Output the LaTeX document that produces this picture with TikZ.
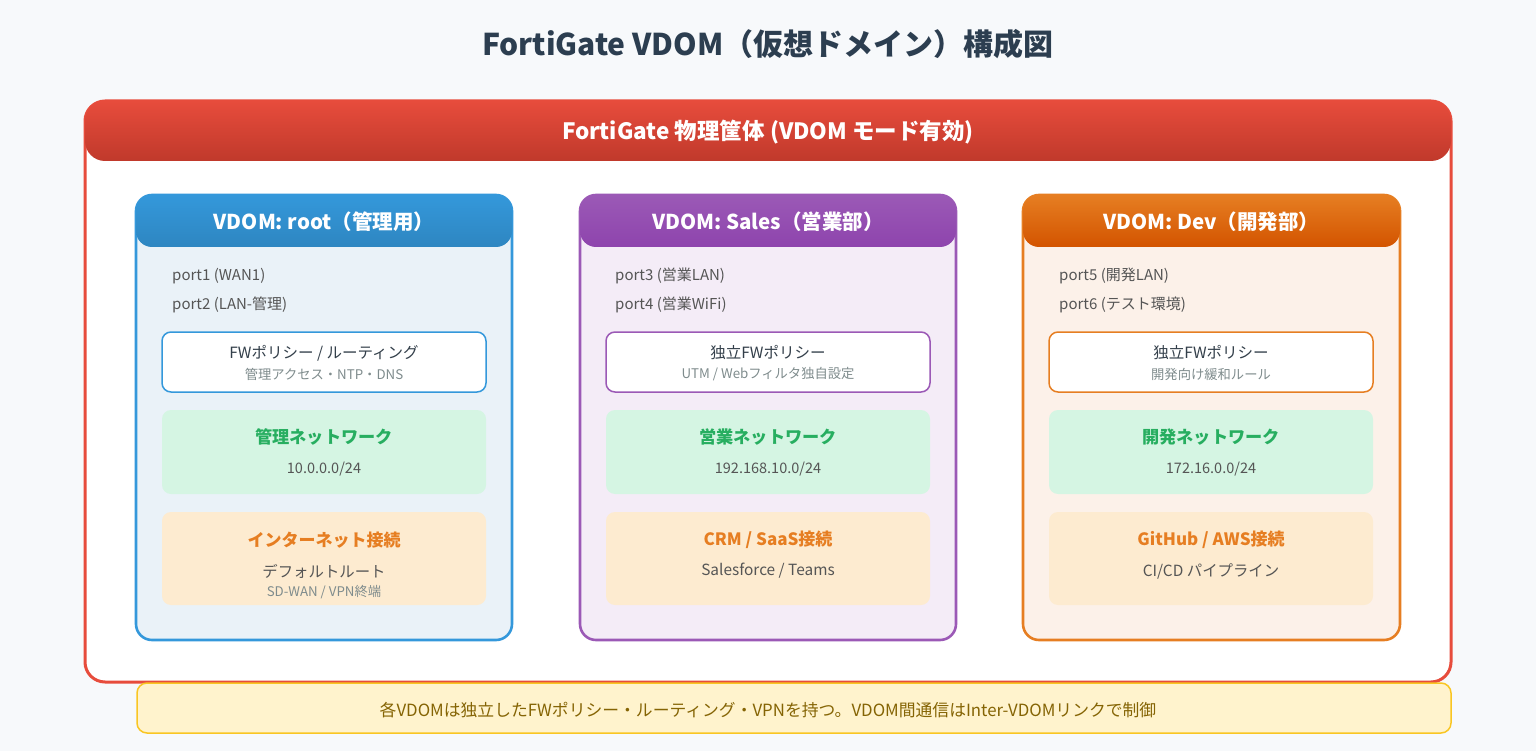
\documentclass[tikz,border=0pt]{standalone}
\usepackage{fontspec}
\setmainfont{Noto Sans CJK JP}
\newcommand{\FSz}[1]{\fontsize{#1}{#1}\selectfont}
\definecolor{bgc}{HTML}{F7F9FB}
\definecolor{titlec}{HTML}{2C3E50}
\definecolor{redA}{HTML}{E74C3C}
\definecolor{redB}{HTML}{C0392B}
\definecolor{blueA}{HTML}{3498DB}
\definecolor{blueB}{HTML}{2E86C1}
\definecolor{blueF}{HTML}{EAF2F8}
\definecolor{purA}{HTML}{9B59B6}
\definecolor{purB}{HTML}{8E44AD}
\definecolor{purF}{HTML}{F4ECF7}
\definecolor{oraA}{HTML}{E67E22}
\definecolor{oraB}{HTML}{D35400}
\definecolor{oraF}{HTML}{FCF1E9}
\definecolor{greenF}{HTML}{D5F5E3}
\definecolor{greenT}{HTML}{27AE60}
\definecolor{peachF}{HTML}{FDEBD0}
\definecolor{peachT}{HTML}{E67E22}
\definecolor{textc}{HTML}{555555}
\definecolor{darkt}{HTML}{333F4A}
\definecolor{grayt}{HTML}{7F8C8D}
\definecolor{noteF}{HTML}{FFF3CD}
\definecolor{noteD}{HTML}{F9C623}
\definecolor{noteT}{HTML}{856404}
\tikzset{
  vdombox/.style={line width=2.6pt, rounded corners=16pt},
  fwbox/.style={fill=white, line width=1.5pt, rounded corners=9pt, minimum width=324pt, minimum height=60pt, inner sep=0pt},
  netbox/.style={fill=greenF, rounded corners=9pt, minimum width=324pt, minimum height=84pt, inner sep=0pt},
  extbox/.style={fill=peachF, rounded corners=9pt, minimum width=324pt, minimum height=93pt, inner sep=0pt},
  hdrtext/.style={text=white, font=\FSz{20.5}\bfseries, inner sep=0pt},
  porttext/.style={text=textc, font=\FSz{15}, anchor=west, inner sep=0pt},
  fwtitle/.style={text=darkt, font=\FSz{15.5}, inner sep=0pt},
  fwsub/.style={text=grayt, font=\FSz{13.3}, inner sep=0pt},
  nettitle/.style={text=greenT, font=\FSz{17.2}\bfseries, inner sep=0pt},
  nettext/.style={text=textc, font=\FSz{14.5}, inner sep=0pt},
  exttitle/.style={text=peachT, font=\FSz{17}\bfseries, inner sep=0pt},
  exttext/.style={text=textc, font=\FSz{15.4}, inner sep=0pt},
  extsub/.style={text=grayt, font=\FSz{13.3}, inner sep=0pt},
}
\begin{document}
\begin{tikzpicture}[x=1pt,y=-1pt]
\useasboundingbox (0,0) rectangle (1536,751);
\fill[bgc] (0,0) rectangle (1536,751);
% title
\node[text=titlec, font=\FSz{30}\bfseries, inner sep=0pt] (title) at (768,44) {FortiGate VDOM（仮想ドメイン）構成図};
% outer chassis
\draw[fill=white, draw=redA, line width=3pt, rounded corners=20pt] (85,101) rectangle (1451,682);
\shade[top color=redA, bottom color=redB, rounded corners=20pt] (85,101) rectangle (1451,161);
\node[text=white, font=\FSz{22.5}\bfseries, inner sep=0pt] (chassis) at (768,132) {FortiGate 物理筐体 (VDOM モード有効)};

% ---------- VDOM root ----------
\draw[vdombox, fill=blueF, draw=blueA] (136,195) rectangle (512,640);
\shade[top color=blueA, bottom color=blueB, rounded corners=16pt] (136,195) rectangle (512,247);
\node[hdrtext] (rootH) at (324,222) {VDOM: root（管理用）};
\node[porttext] (rootP1) at (172,276) {port1 (WAN1)};
\node[porttext] (rootP2) at (172,305) {port2 (LAN-管理)};
\node[fwbox, draw=blueA] (rootFW) at (324,362) {};
\node[fwtitle] (rootFWt) at (324,353) {FWポリシー / ルーティング};
\node[fwsub] (rootFWs) at (324,374) {管理アクセス・NTP・DNS};
\node[netbox] (rootNet) at (324,452) {};
\node[nettitle] (rootNett) at (324,437) {管理ネットワーク};
\node[nettext] (rootNets) at (324,469) {10.0.0.0/24};
\node[extbox] (rootExt) at (324,558.5) {};
\node[exttitle] (rootExtt) at (324,540) {インターネット接続};
\node[exttext] (rootExts) at (324,571) {デフォルトルート};
\node[extsub] (rootExtu) at (324,592) {SD-WAN / VPN終端};

% ---------- VDOM Sales ----------
\draw[vdombox, fill=purF, draw=purA] (580,195) rectangle (956,640);
\shade[top color=purA, bottom color=purB, rounded corners=16pt] (580,195) rectangle (956,247);
\node[hdrtext] (salesH) at (768,222) {VDOM: Sales（営業部）};
\node[porttext] (salesP1) at (615,276) {port3 (営業LAN)};
\node[porttext] (salesP2) at (615,305) {port4 (営業WiFi)};
\node[fwbox, draw=purA] (salesFW) at (768,362) {};
\node[fwtitle] (salesFWt) at (768,353) {独立FWポリシー};
\node[fwsub] (salesFWs) at (768,374) {UTM / Webフィルタ独自設定};
\node[netbox] (salesNet) at (768,452) {};
\node[nettitle] (salesNett) at (768,437) {営業ネットワーク};
\node[nettext] (salesNets) at (768,469) {192.168.10.0/24};
\node[extbox] (salesExt) at (768,558.5) {};
\node[exttitle] (salesExtt) at (768,540) {CRM / SaaS接続};
\node[exttext] (salesExts) at (768,571) {Salesforce / Teams};

% ---------- VDOM Dev ----------
\draw[vdombox, fill=oraF, draw=oraA] (1023,195) rectangle (1400,640);
\shade[top color=oraA, bottom color=oraB, rounded corners=16pt] (1023,195) rectangle (1400,247);
\node[hdrtext] (devH) at (1211,222) {VDOM: Dev（開発部）};
\node[porttext] (devP1) at (1059,276) {port5 (開発LAN)};
\node[porttext] (devP2) at (1059,305) {port6 (テスト環境)};
\node[fwbox, draw=oraA] (devFW) at (1211,362) {};
\node[fwtitle] (devFWt) at (1211,353) {独立FWポリシー};
\node[fwsub] (devFWs) at (1211,374) {開発向け緩和ルール};
\node[netbox] (devNet) at (1211,452) {};
\node[nettitle] (devNett) at (1211,437) {開発ネットワーク};
\node[nettext] (devNets) at (1211,469) {172.16.0.0/24};
\node[extbox] (devExt) at (1211,558.5) {};
\node[exttitle] (devExtt) at (1211,540) {GitHub / AWS接続};
\node[exttext] (devExts) at (1211,571) {CI/CD パイプライン};

% ---------- note ----------
\draw[fill=noteF, draw=noteD, line width=1.5pt, rounded corners=10pt] (137,683) rectangle (1451,733);
\node[text=noteT, font=\FSz{16.8}, inner sep=0pt] (note) at (768,710) {各VDOMは独立したFWポリシー・ルーティング・VPNを持つ。VDOM間通信はInter-VDOMリンクで制御};
\end{tikzpicture}
\end{document}
